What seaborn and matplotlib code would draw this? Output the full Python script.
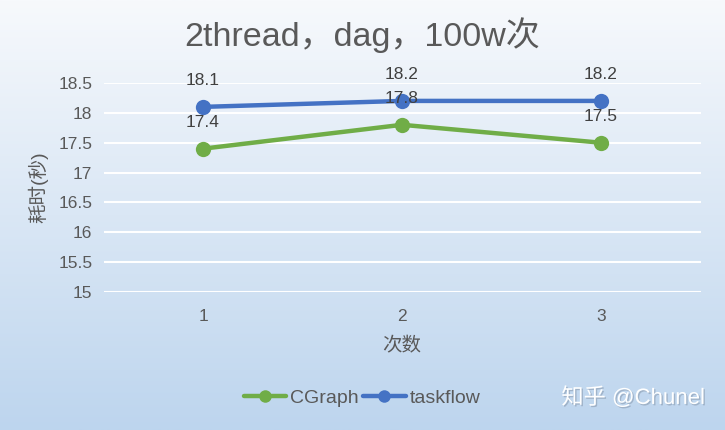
import numpy as np
import pandas as pd
import seaborn as sns
import matplotlib.pyplot as plt
import matplotlib.patheffects as pe
from matplotlib.colors import LinearSegmentedColormap

runs = [1, 2, 3]
cgraph = [17.4, 17.8, 17.5]
taskflow = [18.1, 18.2, 18.2]
series_names = ["CGraph", "taskflow"]
yticks = [15, 15.5, 16, 16.5, 17, 17.5, 18, 18.5]
ytick_labels = ["15", "15.5", "16", "16.5", "17", "17.5", "18", "18.5"]

df = pd.DataFrame({
    "run": runs * 2,
    "time": cgraph + taskflow,
    "series": [series_names[0]] * 3 + [series_names[1]] * 3,
})

sns.set_theme(style="white")
plt.rcParams['font.family'] = ['Liberation Sans', 'Noto Sans CJK SC', 'DejaVu Sans']

fig = plt.figure(figsize=(7.25, 4.3), dpi=100)

# gradient background
bg = fig.add_axes([0, 0, 1, 1], zorder=0)
grad = np.linspace(0, 1, 256).reshape(-1, 1)
cmap = LinearSegmentedColormap.from_list("bg", ["#f7f9fc", "#bdd5ee"])
bg.imshow(grad, aspect="auto", cmap=cmap, extent=[0, 1, 0, 1])
bg.axis("off")

ax = fig.add_axes([103.5 / 725, 1 - 292 / 430, 597 / 725, 209 / 430], zorder=1)
ax.patch.set_alpha(0)

palette = {"CGraph": "#70ad47", "taskflow": "#4472c4"}
sns.lineplot(data=df, x="run", y="time", hue="series", palette=palette,
             marker="o", markersize=11, linewidth=3.2, markeredgewidth=0,
             ax=ax, zorder=3)

for name, vals in [("CGraph", cgraph), ("taskflow", taskflow)]:
    for x, v in zip(runs, vals):
        ax.annotate(f"{v}", (x, v), xytext=(0, 19), textcoords="offset points",
                    ha="center", va="center", fontsize=12.5, color="#404040",
                    zorder=4, annotation_clip=False)

ax.set_xlim(0.5, 3.5)
ax.set_ylim(15, 18.5)
ax.set_xticks(runs)
ax.set_xticklabels([str(r) for r in runs])
ax.set_yticks(yticks)
ax.set_yticklabels(ytick_labels)
ax.tick_params(axis="both", length=0, labelsize=12.5, labelcolor="#595959")
ax.tick_params(axis="y", pad=8)
ax.tick_params(axis="x", pad=12)
ax.grid(axis="y", color="white", linewidth=1.5, zorder=0)
for s in ax.spines.values():
    s.set_visible(False)

ax.set_xlabel("次数", fontsize=14, color="#595959", labelpad=10)
ax.set_ylabel("耗时(秒)", fontsize=14, color="#595959", labelpad=6)
ax.yaxis.set_label_coords(-55 / 597, 0.5)

fig.text(0.5, 1 - 35 / 430, "2thread，dag，100w次", ha="center", va="center",
         fontsize=24.5, color="#595959")

handles, labels = ax.get_legend_handles_labels()
for h in handles:
    h.set_markersize(9)
ax.legend(handles, labels, loc="center", bbox_to_anchor=(362 / 725, 1 - 398 / 430),
          bbox_transform=fig.transFigure, ncol=2, frameon=False, fontsize=14,
          handlelength=2.2, columnspacing=0.2, handletextpad=0.2,
          labelcolor="#595959")

fig.text(705 / 725, 1 - 398 / 430, "知乎 @Chunel", ha="right", va="center",
         fontsize=16, color="white",
         path_effects=[pe.withSimplePatchShadow(offset=(1, -1), shadow_rgbFace="#8a9bb0", alpha=0.6)])

fig.savefig("out.png", dpi=100)
